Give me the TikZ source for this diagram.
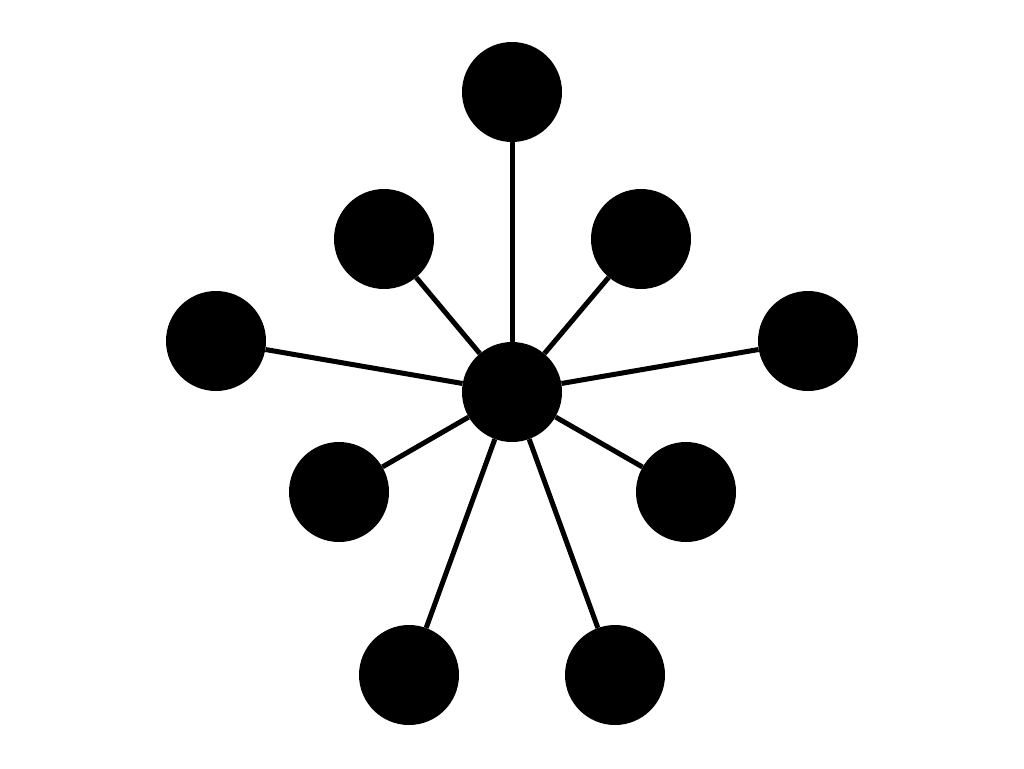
\documentclass[tikz,border=0pt]{standalone}
\begin{document}
\begin{tikzpicture}[x=1pt,y=-1pt,
  dot/.style={circle,fill=black,draw=none,inner sep=0pt,minimum size=100pt},
  spoke/.style={line width=5pt,black}]
\useasboundingbox (0,0) rectangle (1024,768);
\fill[white] (0,0) rectangle (1024,768);
\node[dot] (c) at (512,392) {};
\node[dot] (t) at (512,92) {};
\node[dot] (ul) at (384,239) {};
\node[dot] (ur) at (641,239) {};
\node[dot] (l) at (216,341) {};
\node[dot] (r) at (808,341) {};
\node[dot] (ll) at (339,492) {};
\node[dot] (lr) at (686,492) {};
\node[dot] (bl) at (409,675) {};
\node[dot] (br) at (615,675) {};
\foreach \n in {t,ul,ur,l,r,ll,lr,bl,br}
  \draw[spoke] (c) -- (\n);
\end{tikzpicture}
\end{document}
